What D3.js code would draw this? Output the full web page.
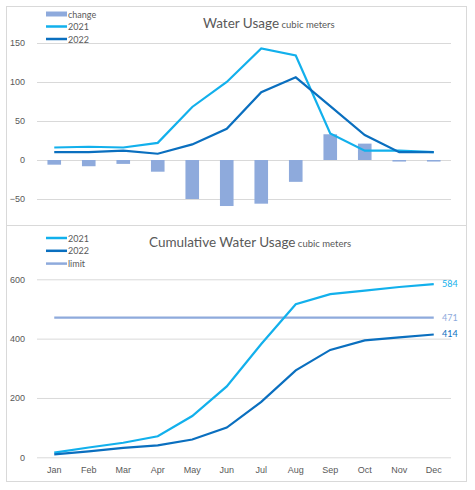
<!DOCTYPE html>
<html><head><meta charset="utf-8">
<script src="https://cdn.jsdelivr.net/npm/d3@7"></script>
<style>body{margin:0;background:#fff;} svg{display:block;font-family:Lato, "Open Sans", sans-serif;}</style>
</head><body>
<svg id="c" width="475" height="490"></svg>
<script>
const months = ["Jan","Feb","Mar","Apr","May","Jun","Jul","Aug","Sep","Oct","Nov","Dec"];
const usage2021 = [16, 17, 16, 22, 68, 100, 143, 134, 34, 12, 12, 10];
const usage2022 = [10, 10, 12, 8, 20, 40, 87, 106, 69, 32, 10, 10];
const change = [-6, -8, -5, -15, -50, -59, -56, -28, 33, 21, -2, -2];
const limit = 471;
const topTicks = [-50, 0, 50, 100, 150];
const bottomTicks = [0, 200, 400, 600];

const C21 = "#12b0ec", C22 = "#0a6fbf", CB = "#8eaadc", GRID = "#d9d9d9", TXT = "#595959";
const svg = d3.select("#c");

// frames
svg.append("rect").attr("x",6.5).attr("y",6.5).attr("width",460).attr("height",219).attr("fill","none").attr("stroke",GRID);
svg.append("rect").attr("x",6.5).attr("y",225.5).attr("width",460).attr("height",256).attr("fill","none").attr("stroke",GRID);

const x = d3.scaleBand().domain(months).range([37, 451]);
const xc = m => x(m) + x.bandwidth()/2;

// ---------- top chart ----------
const y1 = d3.scaleLinear().domain([-50, 150]).range([199, 43]);
const g1 = svg.append("g");
const ax1 = g1.append("g").attr("transform","translate(451,0)")
  .call(d3.axisLeft(y1).tickValues(topTicks).tickSize(414).tickPadding(12));
ax1.select(".domain").remove();
ax1.selectAll("line").attr("stroke",GRID);
ax1.selectAll("text").attr("fill",TXT).style("font-size","9px");

g1.selectAll("rect.bar").data(change).join("rect").attr("class","bar")
  .attr("x",(d,i)=>xc(months[i]) - 6.8).attr("width",13.6)
  .attr("y",d=>y1(Math.max(0,d))).attr("height",d=>Math.abs(y1(d)-y1(0)))
  .attr("fill",CB);

const line1 = d3.line().x((d,i)=>xc(months[i])).y(d=>y1(d));
g1.append("path").datum(usage2021).attr("d",line1).attr("fill","none").attr("stroke",C21).attr("stroke-width",2.2);
g1.append("path").datum(usage2022).attr("d",line1).attr("fill","none").attr("stroke",C22).attr("stroke-width",2.2);

const t1 = svg.append("text").attr("x",203).attr("y",28).attr("fill",TXT);
t1.append("tspan").text("Water Usage").style("font-size","13.5px");
t1.append("tspan").text(" cubic meters").style("font-size","9.5px");

// top legend
const leg1 = [{n:"change",c:CB,w:5},{n:"2021",c:C21,w:2.5},{n:"2022",c:C22,w:2.5}];
leg1.forEach((d,i)=>{
  const yy = 14 + i*12.5;
  svg.append("line").attr("x1",46).attr("x2",67).attr("y1",yy).attr("y2",yy).attr("stroke",d.c).attr("stroke-width",d.w);
  svg.append("text").attr("x",68).attr("y",yy+3.5).text(d.n).attr("fill",TXT).style("font-size","9px");
});

// ---------- bottom chart ----------
const cum21 = d3.cumsum(usage2021), cum22 = d3.cumsum(usage2022);
const y2 = d3.scaleLinear().domain([0, 600]).range([457.3, 279.3]);
const g2 = svg.append("g");
const ax2 = g2.append("g").attr("transform","translate(451,0)")
  .call(d3.axisLeft(y2).tickValues(bottomTicks).tickSize(414).tickPadding(12));
ax2.select(".domain").remove();
ax2.selectAll("line").attr("stroke",GRID);
ax2.selectAll("text").attr("fill",TXT).style("font-size","9px");

const xa = g2.append("g").attr("transform","translate(0,457.3)").call(d3.axisBottom(x).tickSize(0).tickPadding(9));
xa.select(".domain").remove();
xa.selectAll("text").attr("fill",TXT).style("font-size","9px");

const line2 = d3.line().x((d,i)=>xc(months[i])).y(d=>y2(d));
g2.append("line").attr("x1",xc("Jan")).attr("x2",xc("Dec")).attr("y1",y2(limit)).attr("y2",y2(limit)).attr("stroke",CB).attr("stroke-width",2.2);
g2.append("path").datum(Array.from(cum21)).attr("d",line2).attr("fill","none").attr("stroke",C21).attr("stroke-width",2.2);
g2.append("path").datum(Array.from(cum22)).attr("d",line2).attr("fill","none").attr("stroke",C22).attr("stroke-width",2.2);

const endLabels = [{v:cum21[11],c:C21},{v:limit,c:CB},{v:cum22[11],c:C22}];
endLabels.forEach(d=>{
  g2.append("text").attr("x",442).attr("y",y2(d.v)+3).text(d3.format("d")(d.v)).attr("fill",d.c).style("font-size","9px");
});

const t2 = svg.append("text").attr("x",149).attr("y",247).attr("fill",TXT);
t2.append("tspan").text("Cumulative Water Usage").style("font-size","13.5px");
t2.append("tspan").text(" cubic meters").style("font-size","9.5px");

const leg2 = [{n:"2021",c:C21},{n:"2022",c:C22},{n:"limit",c:CB}];
leg2.forEach((d,i)=>{
  const yy = 238 + i*12.8;
  svg.append("line").attr("x1",46).attr("x2",67).attr("y1",yy).attr("y2",yy).attr("stroke",d.c).attr("stroke-width",2.5);
  svg.append("text").attr("x",68).attr("y",yy+3.5).text(d.n).attr("fill",TXT).style("font-size","9px");
});
</script>
</body></html>
